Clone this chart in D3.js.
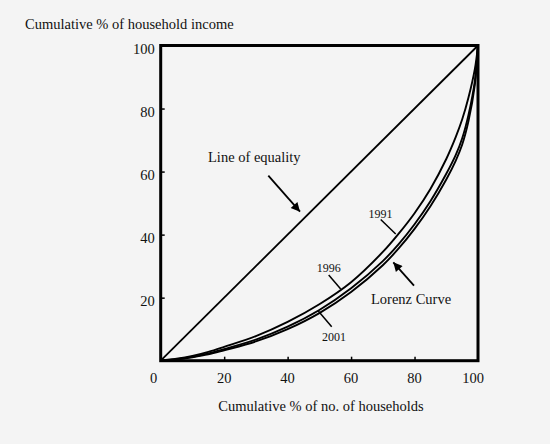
<!DOCTYPE html>
<html>
<head>
<meta charset="utf-8">
<script src="https://cdn.jsdelivr.net/npm/d3@7"></script>
<style>
  html, body { margin: 0; padding: 0; background: #f4f4f4; }
  svg { display: block; font-family: "Liberation Serif", "Times New Roman", serif; }
</style>
</head>
<body>
<svg id="chart" width="550" height="444"></svg>
<script>
// ---- data ----
const households = [0, 5, 10, 15, 20, 30, 40, 50, 60, 70, 75, 80, 85, 90, 93, 95, 97, 99, 100];
const income1991 = [0, 0.6, 1.5, 2.8, 4.4, 7.8, 12.3, 17.9, 24.9, 34.5, 40.3, 46.8, 54.5, 64, 71, 76.5, 83.5, 92.5, 100];
const income1996 = [0, 0.45, 1.25, 2.3, 3.7, 6.7, 10.8, 16.1, 23.0, 31.6, 37, 43.3, 50.6, 59.3, 65.3, 70.5, 78, 88.7, 100];
const income2001 = [0, 0.4, 1.1, 2.0, 3.3, 6.1, 10.0, 15.1, 21.8, 30.3, 35.6, 41.8, 49, 57.5, 63.5, 68.5, 76, 87.5, 100];
const equality = [[0, 0], [100, 100]];
const xTicks = [20, 40, 60, 80, 100];
const yTicks = [20, 40, 60, 80, 100];
const xTitle = "Cumulative % of no. of households";
const yTitle = "Cumulative % of household income";

const svg = d3.select("#chart");
const L = 160.7, R = 478, T = 45.5, B = 360.7;
const x = d3.scaleLinear().domain([0, 100]).range([L, R]);
const y = d3.scaleLinear().domain([0, 100]).range([B, T]);

// arrow marker
svg.append("defs").append("marker")
  .attr("id", "ah").attr("viewBox", "0 0 10 10").attr("refX", 10).attr("refY", 5)
  .attr("markerWidth", 11).attr("markerHeight", 9).attr("markerUnits", "userSpaceOnUse")
  .attr("orient", "auto")
  .append("path").attr("d", "M0,0 L10,5 L0,10 Z").attr("fill", "#000");

// axes (inward ticks)
const xAxis = d3.axisBottom(x).tickValues(xTicks.slice(0, -1)).tickSize(-4).tickFormat("");
const yAxis = d3.axisLeft(y).tickValues(yTicks.slice(0, -1)).tickSize(-4).tickFormat("");
svg.append("g").attr("transform", `translate(0,${B})`).call(xAxis)
  .call(g => g.select(".domain").remove())
  .selectAll("line").attr("stroke", "#000").attr("stroke-width", 1.5);
svg.append("g").attr("transform", `translate(${L},0)`).call(yAxis)
  .call(g => g.select(".domain").remove())
  .selectAll("line").attr("stroke", "#000").attr("stroke-width", 1.5);

// tick labels
svg.append("g").selectAll("text").data(xTicks).join("text")
  .attr("x", d => x(d) - (d === 100 ? 5 : 0)).attr("y", 383)
  .attr("text-anchor", "middle").attr("font-size", 14.5).attr("fill", "#111")
  .text(d => d);
svg.append("text").attr("x", x(0) - 7).attr("y", 383).attr("text-anchor", "middle")
  .attr("font-size", 14.5).attr("fill", "#111").text("0");
svg.append("g").selectAll("text").data(yTicks).join("text")
  .attr("x", L - 6).attr("y", d => y(d) + 8)
  .attr("text-anchor", "end").attr("font-size", 14.5).attr("fill", "#111")
  .text(d => d);

// titles
svg.append("text").attr("x", 25).attr("y", 29).attr("font-size", 14.5).attr("fill", "#111").text(yTitle);
svg.append("text").attr("x", 321).attr("y", 411).attr("text-anchor", "middle")
  .attr("font-size", 14.5).attr("fill", "#111").text(xTitle);

// lines
const line = d3.line().x(d => x(d[0])).y(d => y(d[1])).curve(d3.curveCatmullRom.alpha(0.5));
svg.append("path").datum(equality).attr("d", line).attr("fill", "none")
  .attr("stroke", "#000").attr("stroke-width", 1.8);
[income1991, income1996, income2001].forEach(vals => {
  svg.append("path").datum(households.map((h, i) => [h, vals[i]]))
    .attr("d", line).attr("fill", "none").attr("stroke", "#000").attr("stroke-width", 1.9);
});

// frame
svg.append("rect").attr("x", L).attr("y", T).attr("width", R - L).attr("height", B - T)
  .attr("fill", "none").attr("stroke", "#000").attr("stroke-width", 3);

// annotations
svg.append("text").attr("x", 208).attr("y", 162).attr("font-size", 14.5).attr("fill", "#111").text("Line of equality");
svg.append("line").attr("x1", 268.3).attr("y1", 175.7).attr("x2", 300).attr("y2", 211.7)
  .attr("stroke", "#000").attr("stroke-width", 1.8).attr("marker-end", "url(#ah)");

svg.append("text").attr("x", 371).attr("y", 304).attr("font-size", 14.5).attr("fill", "#111").text("Lorenz Curve");
svg.append("line").attr("x1", 414).attr("y1", 285.7).attr("x2", 393.3).attr("y2", 262.3)
  .attr("stroke", "#000").attr("stroke-width", 1.8).attr("marker-end", "url(#ah)");

const yearLabels = [
  {t: "1991", tx: 380.5, ty: 218, x1: 380.7, y1: 219.5, x2: 395.7, y2: 234},
  {t: "1996", tx: 328.7, ty: 272, x1: 328.7, y1: 275, x2: 340.7, y2: 289},
  {t: "2001", tx: 334, ty: 341, x1: 331.7, y1: 326.7, x2: 318.3, y2: 311}
];
yearLabels.forEach(a => {
  svg.append("text").attr("x", a.tx).attr("y", a.ty).attr("text-anchor", "middle")
    .attr("font-size", 12).attr("fill", "#111").text(a.t);
  svg.append("line").attr("x1", a.x1).attr("y1", a.y1).attr("x2", a.x2).attr("y2", a.y2)
    .attr("stroke", "#000").attr("stroke-width", 1.5);
});
</script>
</body>
</html>
